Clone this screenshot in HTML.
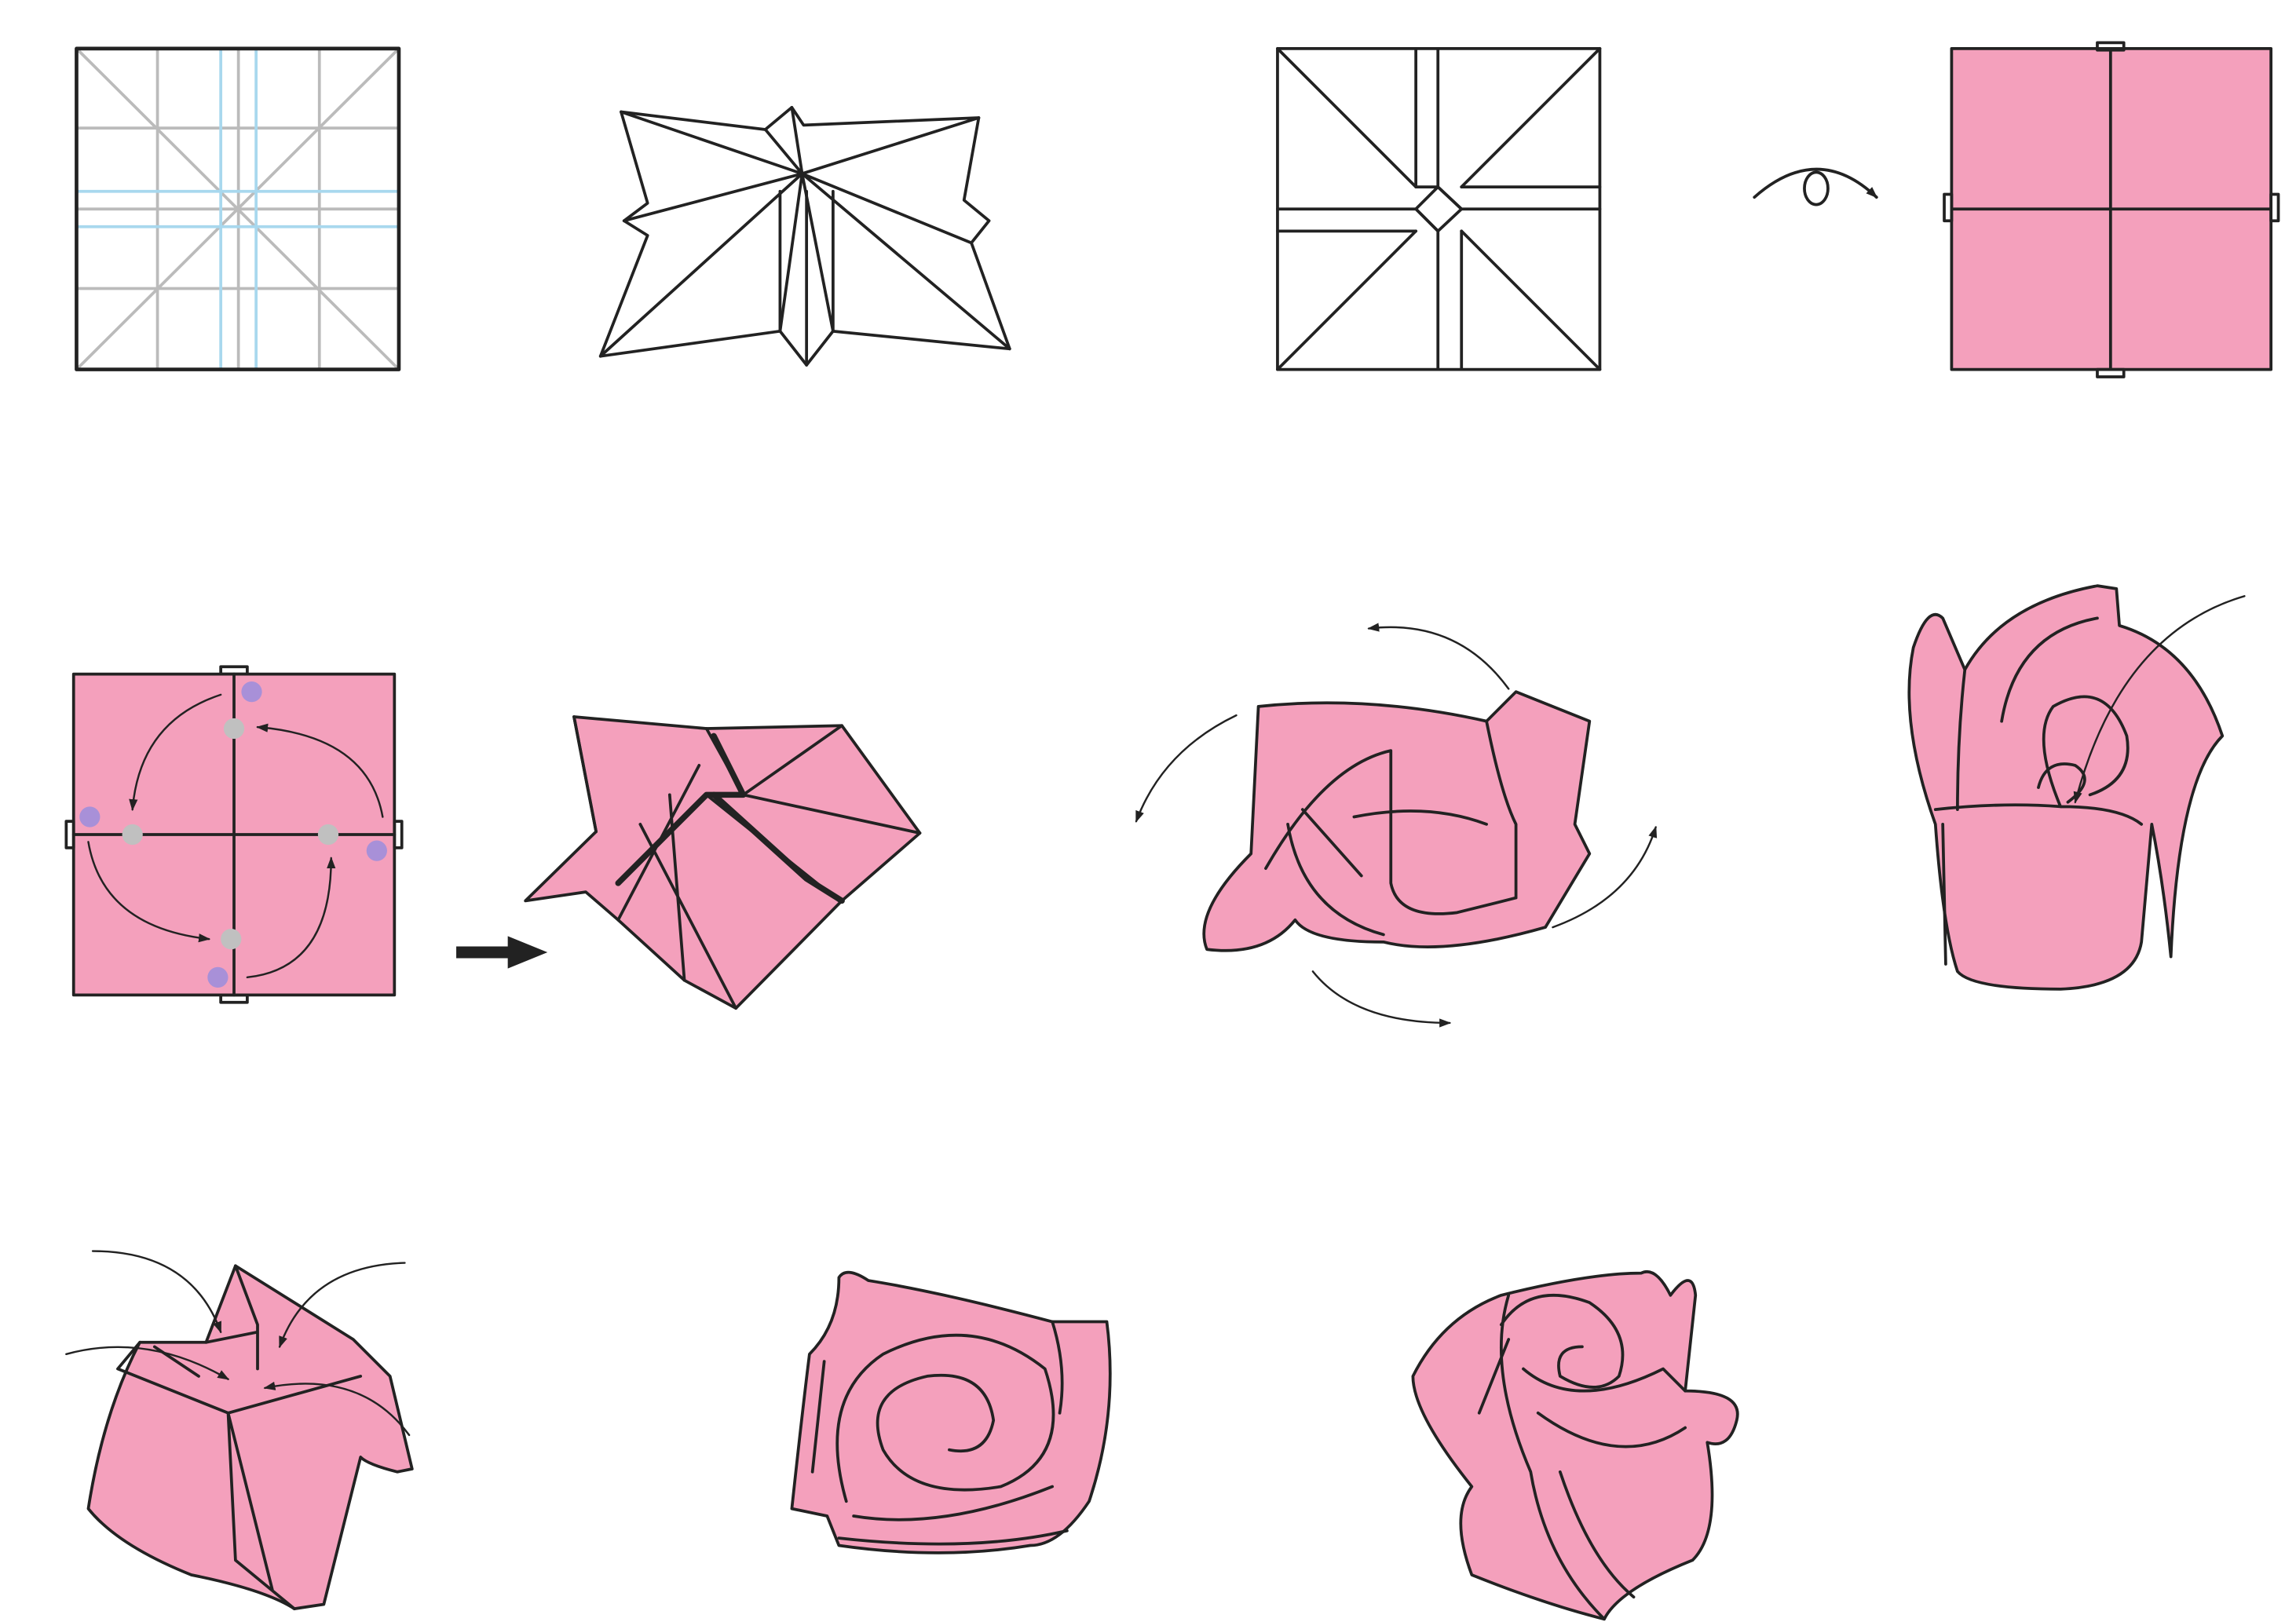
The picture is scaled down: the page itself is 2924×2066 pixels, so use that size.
<!DOCTYPE html>
<html><head><meta charset="utf-8"><style>
html,body{margin:0;padding:0;background:#fff;}
svg{display:block;}
</style></head><body>
<svg width="2924" height="2066" viewBox="0 0 1560 1102" preserveAspectRatio="none" xmlns="http://www.w3.org/2000/svg">
<defs>
<marker id="ah" markerWidth="8" markerHeight="8" refX="7" refY="4" orient="auto" markerUnits="userSpaceOnUse"><path d="M0,1 L8,4 L0,7 Z" fill="#222"/></marker>
</defs>
<rect width="1560" height="1102" fill="#fff"/>
<g stroke-linejoin="round" stroke-linecap="round">
<!-- Panel 1: crease pattern -->
<g stroke="#bbb" stroke-width="2" fill="none">
<line x1="107" y1="33" x2="107" y2="251"/><line x1="162" y1="33" x2="162" y2="251"/><line x1="217" y1="33" x2="217" y2="251"/>
<line x1="52" y1="87" x2="271" y2="87"/><line x1="52" y1="142" x2="271" y2="142"/><line x1="52" y1="196" x2="271" y2="196"/>
<line x1="52" y1="33" x2="271" y2="251"/><line x1="271" y1="33" x2="52" y2="251"/>
</g>
<g stroke="#a8d8ee" stroke-width="2" fill="none">
<line x1="150" y1="33" x2="150" y2="251"/><line x1="174" y1="33" x2="174" y2="251"/>
<line x1="52" y1="130" x2="271" y2="130"/><line x1="52" y1="154" x2="271" y2="154"/>
</g>
<rect x="52" y="33" width="219" height="218" fill="none" stroke="#222" stroke-width="2.5"/>

<!-- Panel 2: star -->
<g fill="#fff" stroke="#222" stroke-width="2">
<path d="M422,76 L520,88 L538,73 L546,85 L665,80 L655,136 L672,150 L660,165 L686,237 L566,225 L548,248 L530,225 L408,242 L440,160 L424,150 L440,138 Z"/>
<path d="M520,88 L545,118 L530,225 M545,118 L566,225 M545,118 L665,80 M545,118 L422,76 M538,73 L545,118 M545,118 L660,165 M545,118 L424,150 M545,118 L686,237 M545,118 L408,242" fill="none"/>
<path d="M530,130 L530,225 M548,130 L548,248 M566,130 L566,225" fill="none"/>
</g>

<!-- Panel 3 -->
<g fill="none" stroke="#222" stroke-width="2">
<rect x="868" y="33" width="219" height="218"/>
<line x1="868" y1="33" x2="962" y2="127"/><line x1="1087" y1="33" x2="993" y2="127"/>
<line x1="868" y1="251" x2="962" y2="157"/><line x1="1087" y1="251" x2="993" y2="157"/>
<path d="M962,33 L962,127 L977,127 L977,33 M977,127 L993,142 L1087,142 M993,127 L1087,127 M993,157 L993,251 M977,157 L977,251 M977,157 L962,142 L868,142 M962,157 L868,157"/>
<path d="M977,127 L993,142 L977,157 L962,142 Z"/>
</g>

<!-- Panel 4 -->
<path d="M1192,134 Q1235,96 1275,134" fill="none" stroke="#222" stroke-width="2" marker-end="url(#ah)"/>
<ellipse cx="1234" cy="128" rx="8" ry="11" fill="none" stroke="#222" stroke-width="2"/>
<rect x="1326" y="33" width="217" height="218" fill="#f4a0bc" stroke="#222" stroke-width="2"/>
<g stroke="#222" stroke-width="2" fill="none">
<line x1="1434" y1="33" x2="1434" y2="251"/><line x1="1326" y1="142" x2="1543" y2="142"/>
<rect x="1425" y="29" width="18" height="5"/><rect x="1425" y="251" width="18" height="5"/>
<rect x="1321" y="132" width="5" height="18"/><rect x="1543" y="132" width="5" height="18"/>
</g>

<!-- Row 2 panel 1 -->
<rect x="50" y="458" width="218" height="218" fill="#f4a0bc" stroke="#222" stroke-width="2"/>
<g stroke="#222" stroke-width="2" fill="none">
<line x1="159" y1="458" x2="159" y2="676"/><line x1="50" y1="567" x2="268" y2="567"/>
<rect x="150" y="453" width="18" height="5"/><rect x="150" y="676" width="18" height="5"/>
<rect x="45" y="558" width="5" height="18"/><rect x="268" y="558" width="5" height="18"/>
</g>
<g fill="none" stroke="#222" stroke-width="1.3" marker-end="url(#ah)">
<path d="M150,472 Q95,490 90,550"/>
<path d="M260,555 Q250,500 175,494"/>
<path d="M60,572 Q70,630 142,638"/>
<path d="M168,664 Q225,658 225,583"/>
</g>
<g fill="#a890d8"><circle cx="171" cy="470" r="7"/><circle cx="61" cy="555" r="7"/><circle cx="256" cy="578" r="7"/><circle cx="148" cy="664" r="7"/></g>
<g fill="#c0c0c0"><circle cx="159" cy="495" r="7"/><circle cx="90" cy="567" r="7"/><circle cx="223" cy="567" r="7"/><circle cx="157" cy="638" r="7"/></g>
<path d="M310,643 L345,643 L345,636 L372,647 L345,658 L345,651 L310,651 Z" fill="#222"/>

<!-- Row 2 panel 2 -->
<g fill="#f4a0bc" stroke="#222" stroke-width="2">
<path d="M390,487 L480,495 L572,493 L625,566 L572,612 L500,685 L465,666 L420,625 L398,606 L357,612 L405,565 Z"/>
<path d="M390,487 L405,565 M480,495 L505,540 L572,493 M475,520 L420,625 M480,540 L570,612 M455,540 L465,666 M505,540 L625,566 M435,560 L500,685" fill="none"/>
<path d="M485,540 L548,597 L572,612" fill="none" stroke-width="4"/>
<path d="M485,500 L505,540 L480,540 L420,600" fill="none" stroke-width="4"/>
</g>

<!-- Row 2 panel 3 -->
<g fill="#f4a0bc" stroke="#222" stroke-width="2">
<path d="M855,480 Q930,472 1010,490 L1030,470 L1080,490 L1070,560 L1080,580 L1050,630 Q980,650 940,640 Q890,640 880,625 Q860,650 820,645 Q810,620 850,580 Z"/>
<path d="M860,590 Q900,520 945,510 L945,600 Q950,625 990,620 L1030,610 M875,560 Q885,620 940,635 M1010,490 Q1020,540 1030,560 L1030,610 M920,555 Q970,545 1010,560 M885,550 L925,595" fill="none"/>
</g>
<g fill="none" stroke="#222" stroke-width="1.3" marker-end="url(#ah)">
<path d="M1025,468 Q990,420 930,427"/>
<path d="M840,486 Q790,510 772,558"/>
<path d="M1055,630 Q1110,610 1125,562"/>
<path d="M892,660 Q920,695 985,695"/>
</g>

<!-- Row 2 panel 4 -->
<g fill="#f4a0bc" stroke="#222" stroke-width="2">
<path d="M1300,440 Q1310,410 1320,420 L1335,455 Q1360,410 1425,398 L1438,400 L1440,425 Q1490,440 1510,500 Q1480,530 1475,650 Q1470,600 1462,560 L1455,640 Q1450,670 1400,672 Q1340,672 1330,660 Q1320,630 1315,560 Q1290,490 1300,440 Z"/>
<path d="M1315,550 Q1360,545 1400,548 Q1440,548 1455,560 M1320,560 L1322,655 M1335,455 Q1330,500 1330,550 M1360,490 Q1370,430 1425,420 M1400,548 Q1380,500 1395,480 Q1430,460 1445,500 Q1450,530 1420,540 M1385,535 Q1390,515 1410,520 Q1425,530 1405,545" fill="none"/>
</g>
<path d="M1525,405 Q1440,430 1410,545" fill="none" stroke="#222" stroke-width="1.3" marker-end="url(#ah)"/>

<!-- Row 3 panel 1 -->
<g fill="#f4a0bc" stroke="#222" stroke-width="2">
<path d="M95,912 L140,912 L160,860 L240,910 L265,935 L280,998 L270,1000 Q250,995 245,990 L220,1090 L200,1093 Q180,1080 130,1070 Q80,1050 60,1025 Q70,960 95,912 Z"/>
<path d="M95,912 L80,930 L155,960 L245,935 M155,960 L160,1060 L200,1093 M155,960 L185,1080 M140,912 L175,905 M160,860 L175,900 L175,930 M105,915 L135,935" fill="none"/>
</g>
<g fill="none" stroke="#222" stroke-width="1.3" marker-end="url(#ah)">
<path d="M63,850 Q130,850 150,905"/>
<path d="M275,858 Q210,860 190,915"/>
<path d="M45,920 Q100,905 155,937"/>
<path d="M278,975 Q245,930 180,943"/>
</g>

<!-- Row 3 panel 2 -->
<g fill="#f4a0bc" stroke="#222" stroke-width="2">
<path d="M570,868 Q575,860 590,870 Q640,878 715,898 L752,898 Q760,960 740,1020 Q720,1050 700,1050 Q640,1060 570,1050 L562,1030 L538,1025 Q545,960 550,920 Q570,900 570,868 Z"/>
<path d="M575,1020 Q555,950 600,920 Q660,890 710,930 Q730,990 680,1010 Q620,1020 600,985 Q585,945 630,935 Q670,930 675,965 Q670,990 645,985 M580,1030 Q640,1040 715,1010 M570,1045 Q660,1055 725,1040 M715,898 Q725,930 720,960 M552,1000 L560,925" fill="none"/>
</g>

<!-- Row 3 panel 3 -->
<g fill="#f4a0bc" stroke="#222" stroke-width="2">
<path d="M1020,880 Q1080,865 1115,865 Q1125,860 1135,880 Q1150,860 1152,880 L1145,945 Q1185,945 1180,965 Q1175,985 1160,980 Q1170,1040 1150,1060 Q1100,1080 1090,1100 Q1050,1090 1000,1070 Q985,1030 1000,1010 Q960,960 960,935 Q980,895 1020,880 Z"/>
<path d="M1025,880 Q1010,930 1040,1000 Q1050,1060 1090,1100 M1020,900 Q1040,870 1080,885 Q1110,905 1100,935 Q1085,950 1060,935 Q1055,915 1075,915 M1035,930 Q1070,960 1130,930 L1145,945 M1005,960 L1025,910 M1045,960 Q1100,1000 1145,970 M1060,1000 Q1080,1060 1110,1085" fill="none"/>
</g>
</g>
</svg>
</body></html>
